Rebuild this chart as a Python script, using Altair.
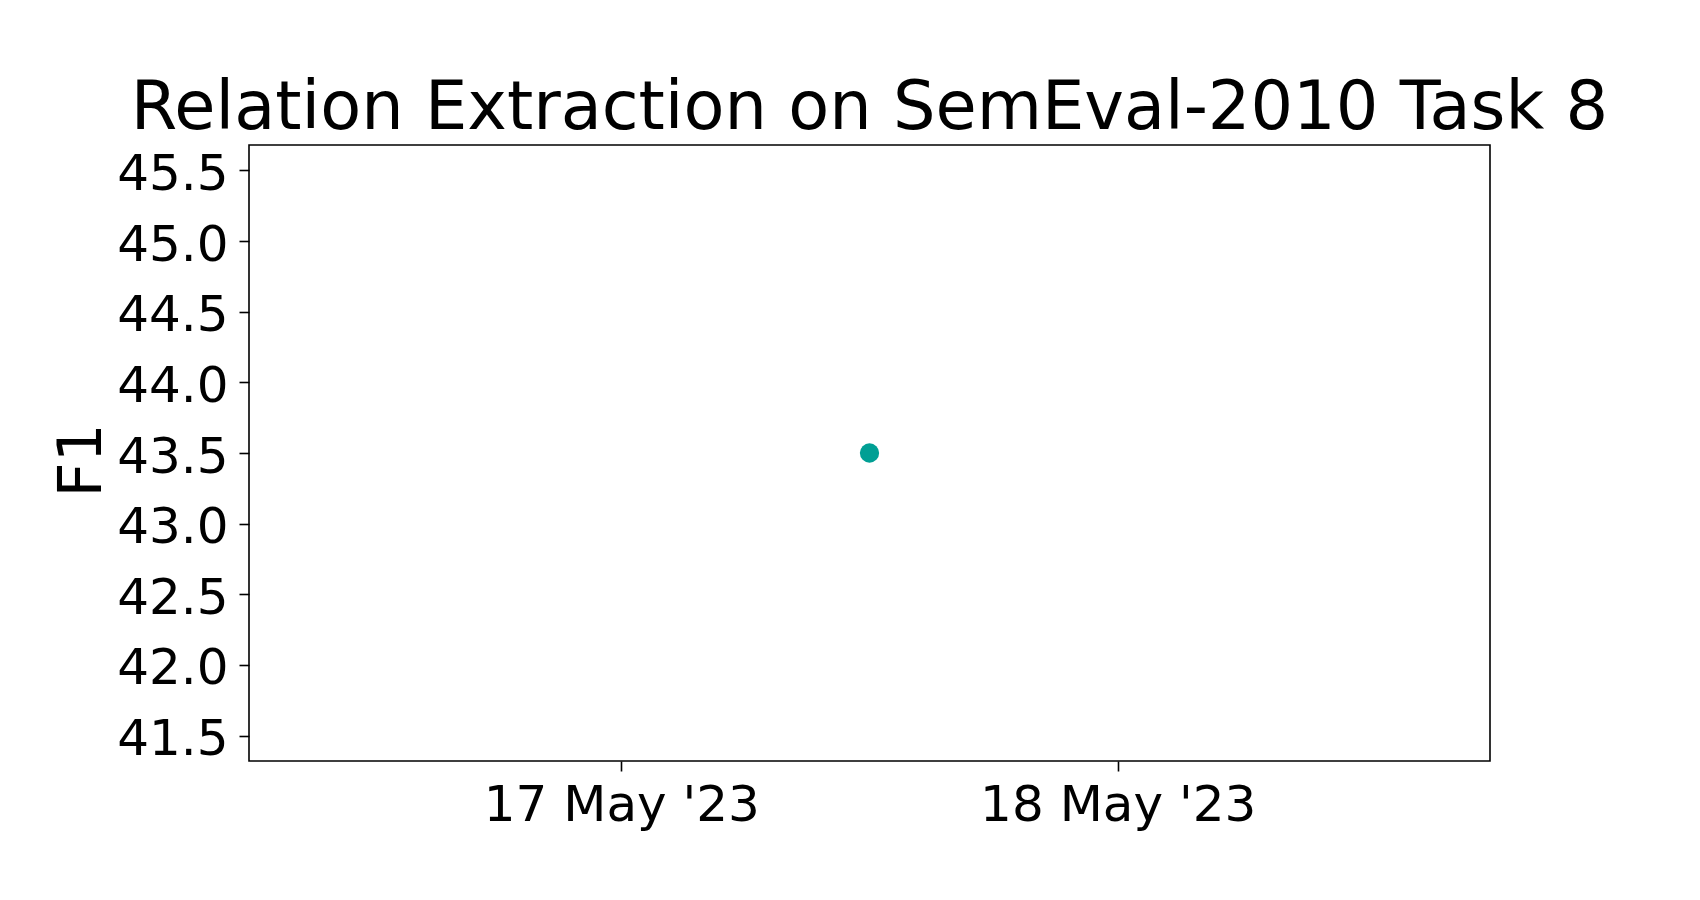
import altair as alt
import pandas as pd

# Data
dates = ["2023-05-17T12:00:00"]
f1_values = [43.5]

y_ticks = [41.5, 42.0, 42.5, 43.0, 43.5, 44.0, 44.5, 45.0, 45.5]
x_domain = [alt.DateTime(year=2023, month=5, date=16, hours=6),
            alt.DateTime(year=2023, month=5, date=18, hours=18)]
x_ticks = [alt.DateTime(year=2023, month=5, date=17),
           alt.DateTime(year=2023, month=5, date=18)]
y_domain = [41.32, 45.68]

df = pd.DataFrame({"date": dates, "F1": f1_values})

FONT = "DejaVu Sans"

chart = alt.Chart(df).mark_point(
    filled=True, size=372, color="#009f94", opacity=1, strokeWidth=0
).encode(
    x=alt.X("date:T",
            scale=alt.Scale(domain=x_domain, nice=False),
            axis=alt.Axis(values=x_ticks, format="%d %b '%y", title=None,
                          grid=False, domain=False, tickSize=10, tickWidth=1.6,
                          tickColor="black", labelFontSize=50, labelFont=FONT,
                          labelColor="black", labelPadding=9.5, labelFlush=False,
                          labelOverlap=False, labelLimit=0)),
    y=alt.Y("F1:Q",
            scale=alt.Scale(domain=y_domain, nice=False, zero=False),
            axis=alt.Axis(values=y_ticks, format=".1f", title="F1",
                          grid=False, domain=False, tickSize=10, tickWidth=1.6,
                          tickColor="black", labelFontSize=50, labelFont=FONT,
                          labelColor="black", labelPadding=11,
                          labelBaseline="alphabetic", labelOffset=19,
                          labelFlush=False, labelOverlap=False, labelLimit=0,
                          titleFont=FONT, titleFontSize=61, titleFontWeight="normal",
                          titleColor="black", titleAngle=270, titleAlign="center",
                          titleBaseline="alphabetic", titleX=-149, titleY=315)),
).properties(
    width=1241,
    height=616,
    background="white",
    title=alt.TitleParams(
        "Relation Extraction on SemEval-2010 Task 8",
        font=FONT, fontSize=67, fontWeight="normal", color="black",
        anchor="middle", baseline="alphabetic", offset=-51, frame="group"),
    autosize=alt.AutoSizeParams(type="none"),
    padding={"left": 241, "top": 137, "right": 150, "bottom": 110},
).configure_view(
    stroke="black", strokeWidth=1.6
)

chart.save("out.html", embed_options={"renderer": "svg", "actions": False})
